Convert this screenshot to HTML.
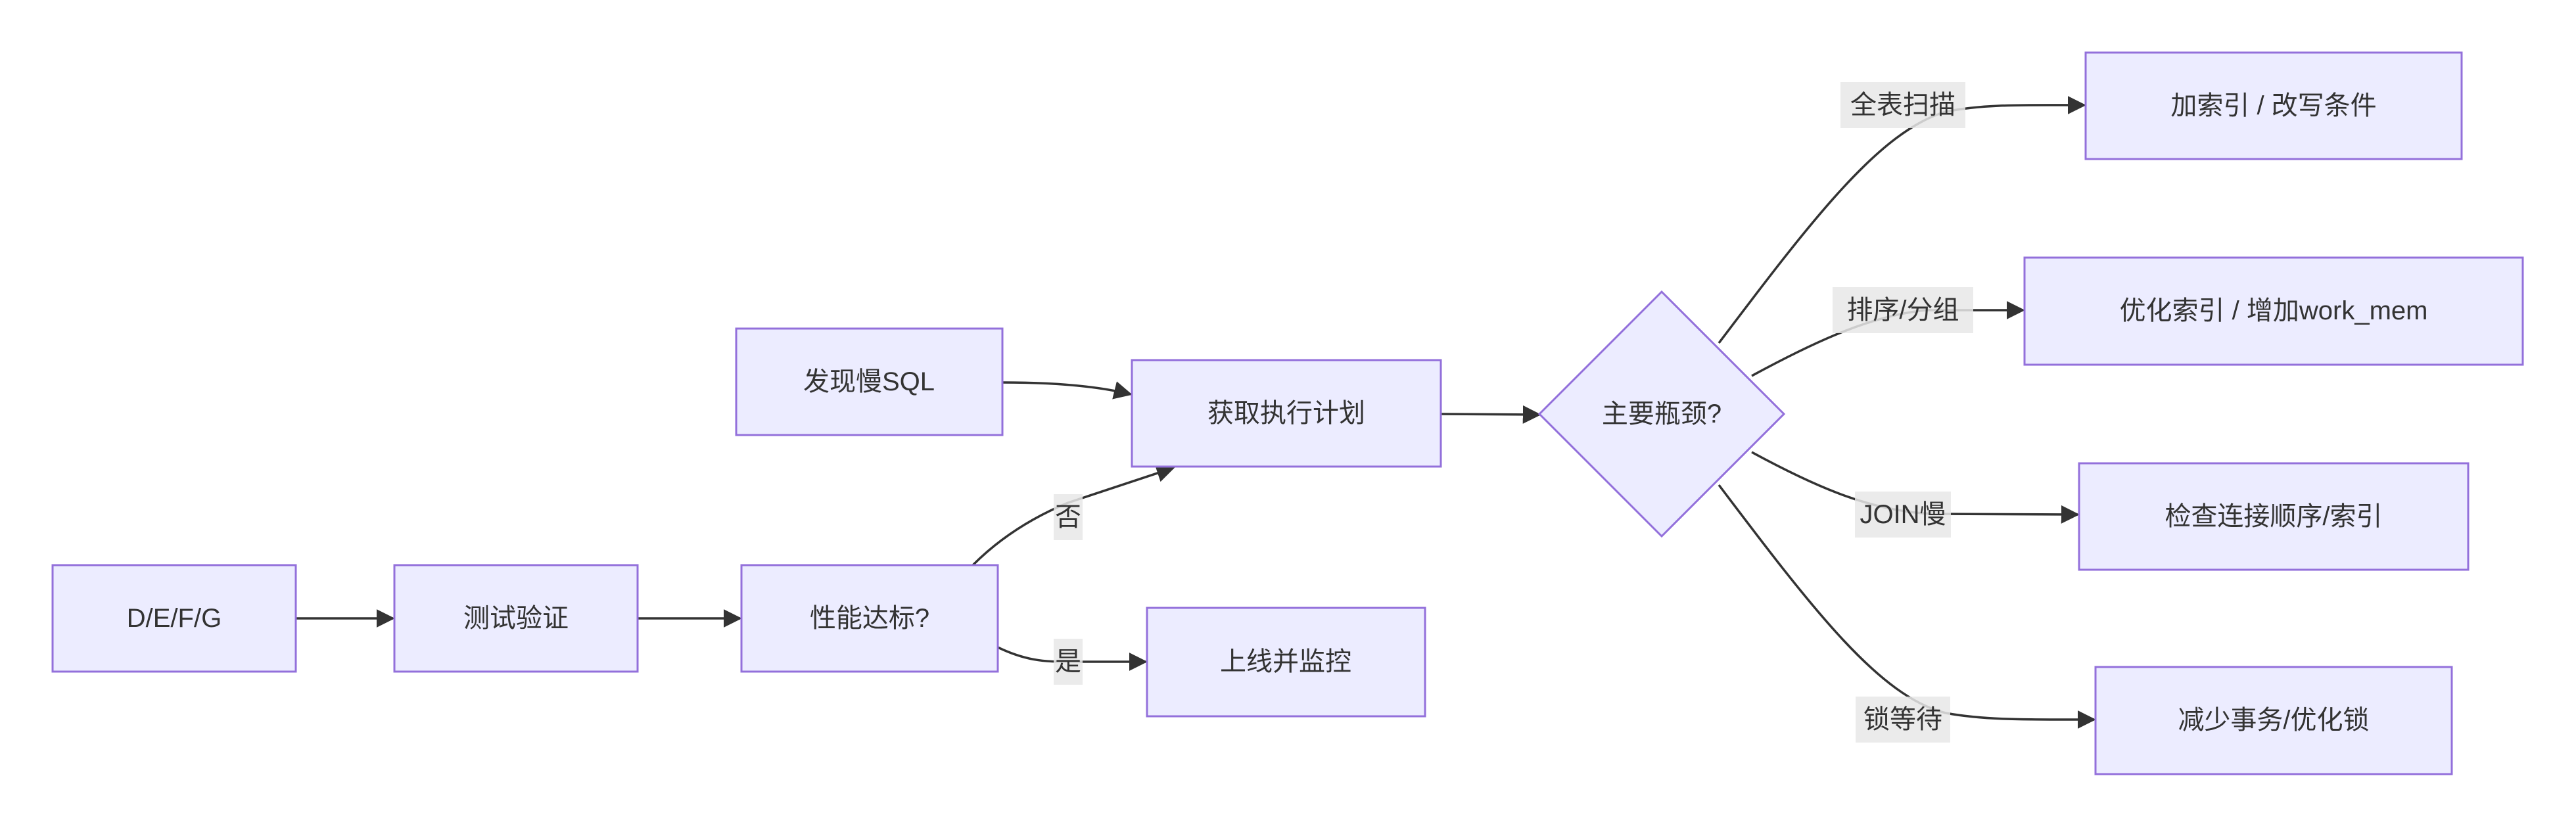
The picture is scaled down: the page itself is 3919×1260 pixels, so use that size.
<!DOCTYPE html>
<html><head><meta charset="utf-8"><style>
html,body{margin:0;padding:0;background:#fff;}
svg{display:block}
text{font-family:"Liberation Sans","Noto Sans CJK SC",sans-serif;font-size:40px;fill:#333;}
.n{fill:#ECECFF;stroke:#9370DB;stroke-width:3;}
.e{fill:none;stroke:#333;stroke-width:3.5;}
.lb{fill:rgba(232,232,232,0.85);}
</style></head><body>
<svg width="3919" height="1260" viewBox="0 0 3919 1260" xmlns="http://www.w3.org/2000/svg">
<defs><marker id="a" viewBox="0 0 10 10" refX="9" refY="5" markerWidth="7" markerHeight="7" markerUnits="userSpaceOnUse" orient="auto"><path d="M0,0L10,5L0,10z" fill="#333"/></marker>
<marker id="b" viewBox="0 0 10 10" refX="9" refY="5" markerWidth="8" markerHeight="8" orient="auto"><path d="M0,0L10,5L0,10z" fill="#333"/></marker></defs>

<!-- edges -->
<path class="e" marker-end="url(#b)" d="M450,941 L598,941"/>
<path class="e" marker-end="url(#b)" d="M970,941 L1126,941"/>
<path class="e" marker-end="url(#b)" d="M1480,860 Q1540,800 1625,765 L1785,712"/>
<path class="e" marker-end="url(#b)" d="M1518,985 C1570,1010 1600,1007 1660,1007 L1743,1007"/>
<path class="e" marker-end="url(#b)" d="M1525,582 C1620,582 1680,590 1720,600"/>
<path class="e" marker-end="url(#b)" d="M2192,630 L2342,631"/>
<path class="e" marker-end="url(#b)" d="M2615,522 C2760,330 2860,200 2960,170 C3020,158 3080,160 3171,160"/>
<path class="e" marker-end="url(#b)" d="M2665,572 C2770,515 2850,480 2930,472 L3078,472"/>
<path class="e" marker-end="url(#b)" d="M2665,688 C2770,745 2850,778 2940,782 L3161,783"/>
<path class="e" marker-end="url(#b)" d="M2615,738 C2760,930 2860,1060 2960,1085 C3020,1096 3080,1095 3186,1095"/>

<!-- nodes -->
<rect class="n" x="80" y="860" width="370" height="162"/>
<text x="265" y="941" text-anchor="middle" dominant-baseline="central">D/E/F/G</text>
<rect class="n" x="600" y="860" width="370" height="162"/>
<text x="785" y="941" text-anchor="middle" dominant-baseline="central">测试验证</text>
<rect class="n" x="1128" y="860" width="390" height="162"/>
<text x="1323" y="941" text-anchor="middle" dominant-baseline="central">性能达标?</text>
<rect class="n" x="1745" y="925" width="423" height="165"/>
<text x="1956" y="1007" text-anchor="middle" dominant-baseline="central">上线并监控</text>
<rect class="n" x="1120" y="500" width="405" height="162"/>
<text x="1322" y="581" text-anchor="middle" dominant-baseline="central">发现慢SQL</text>
<rect class="n" x="1722" y="548" width="470" height="162"/>
<text x="1957" y="629" text-anchor="middle" dominant-baseline="central">获取执行计划</text>
<polygon class="n" points="2528,444 2714,630 2528,816 2342,630"/>
<text x="2528" y="630" text-anchor="middle" dominant-baseline="central">主要瓶颈?</text>
<rect class="n" x="3173" y="80" width="572" height="162"/>
<text x="3459" y="161" text-anchor="middle" dominant-baseline="central">加索引 / 改写条件</text>
<rect class="n" x="3080" y="392" width="758" height="163"/>
<text x="3459" y="473" text-anchor="middle" dominant-baseline="central">优化索引 / 增加work_mem</text>
<rect class="n" x="3163" y="705" width="592" height="162"/>
<text x="3459" y="786" text-anchor="middle" dominant-baseline="central">检查连接顺序/索引</text>
<rect class="n" x="3188" y="1015" width="542" height="163"/>
<text x="3459" y="1096" text-anchor="middle" dominant-baseline="central">减少事务/优化锁</text>

<!-- edge labels -->
<rect class="lb" x="1603" y="752" width="44" height="70"/>
<text x="1625" y="787" text-anchor="middle" dominant-baseline="central">否</text>
<rect class="lb" x="1603" y="972" width="44" height="70"/>
<text x="1625" y="1007" text-anchor="middle" dominant-baseline="central">是</text>
<rect class="lb" x="2800" y="125" width="190" height="70"/>
<text x="2895" y="160" text-anchor="middle" dominant-baseline="central">全表扫描</text>
<rect class="lb" x="2788" y="437" width="214" height="70"/>
<text x="2895" y="472" text-anchor="middle" dominant-baseline="central">排序/分组</text>
<rect class="lb" x="2822" y="748" width="146" height="70"/>
<text x="2895" y="783" text-anchor="middle" dominant-baseline="central">JOIN慢</text>
<rect class="lb" x="2823" y="1060" width="144" height="70"/>
<text x="2895" y="1095" text-anchor="middle" dominant-baseline="central">锁等待</text>
</svg>
</body></html>
